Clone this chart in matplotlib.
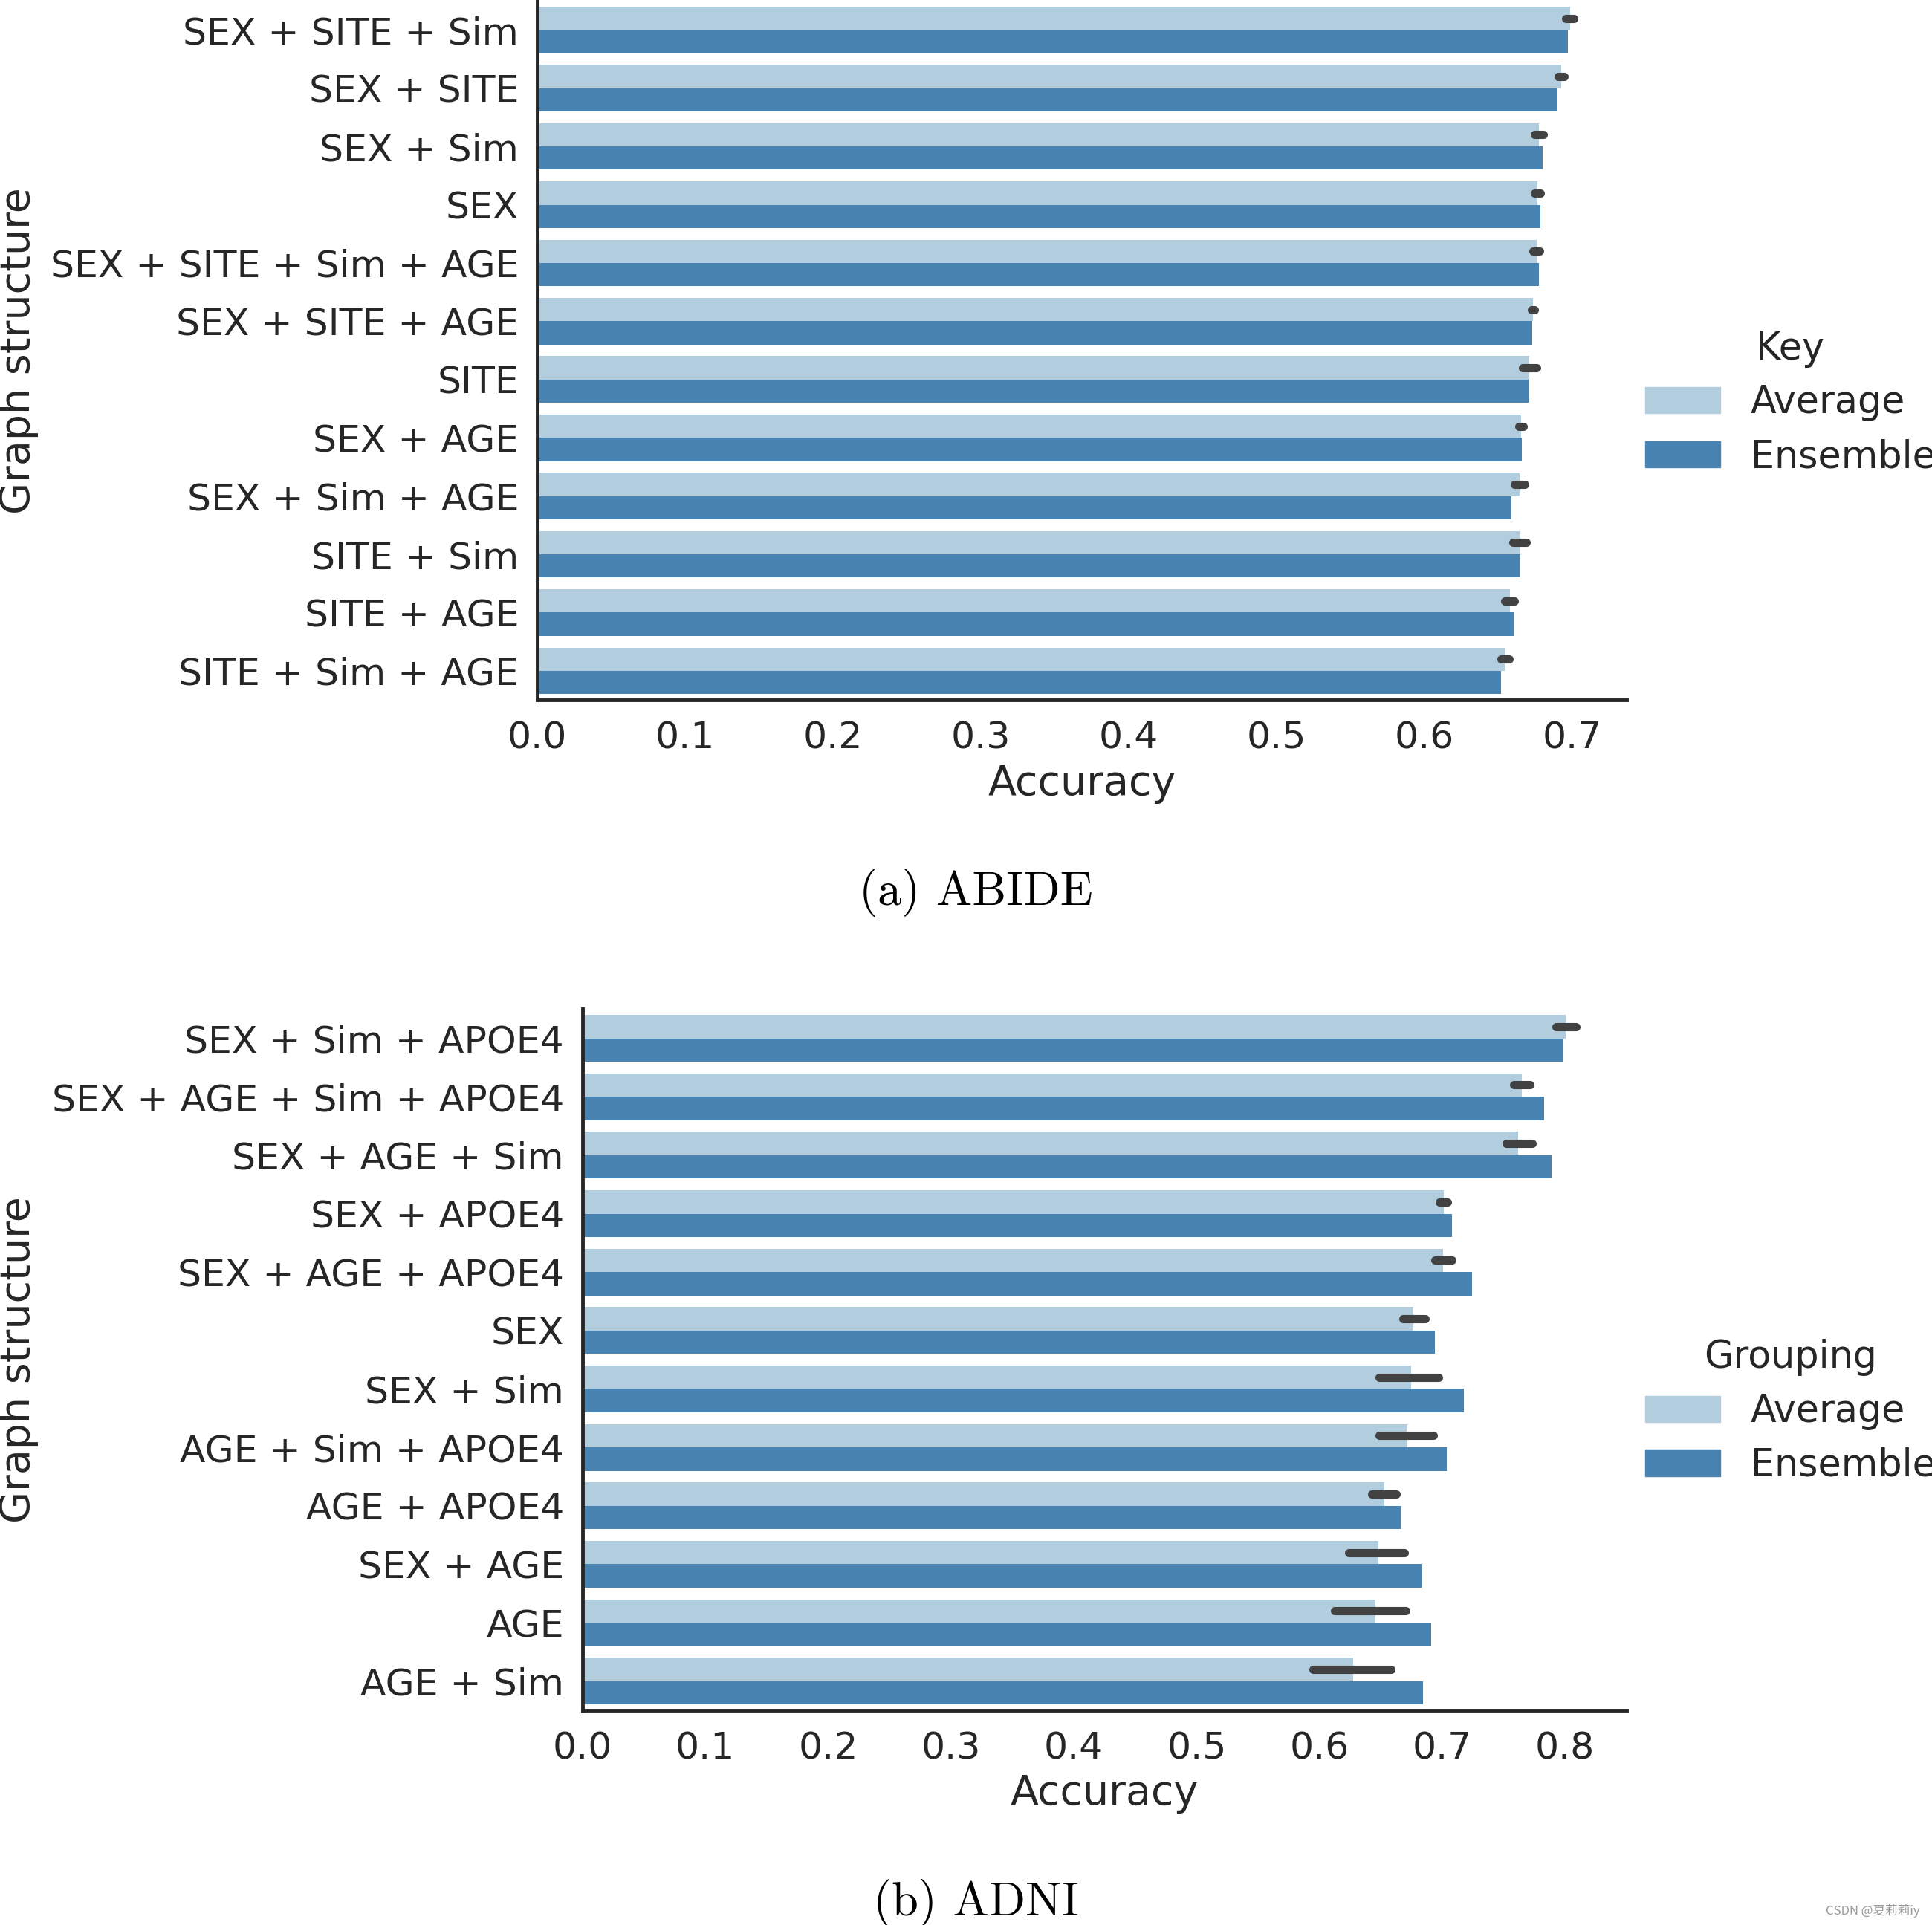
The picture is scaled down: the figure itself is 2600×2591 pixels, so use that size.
import numpy as np
import matplotlib
matplotlib.use("Agg")
import matplotlib.pyplot as plt
from matplotlib.patches import Patch

# ---- ABIDE data (top panel) ----
abide_labels = ["SEX + SITE + Sim", "SEX + SITE", "SEX + Sim", "SEX",
                "SEX + SITE + Sim + AGE", "SEX + SITE + AGE", "SITE", "SEX + AGE",
                "SEX + Sim + AGE", "SITE + Sim", "SITE + AGE", "SITE + Sim + AGE"]
abide_avg = [0.6987, 0.6926, 0.6777, 0.6767, 0.6760, 0.6739,
             0.6714, 0.6657, 0.6647, 0.6645, 0.6580, 0.6545]
abide_avg_lo = [0.6958, 0.6908, 0.6748, 0.6748, 0.6738, 0.6728,
                0.6668, 0.6643, 0.6613, 0.6603, 0.6548, 0.6523]
abide_avg_hi = [0.7012, 0.6947, 0.6807, 0.6787, 0.6782, 0.6747,
                0.6762, 0.6672, 0.6682, 0.6692, 0.6612, 0.6577]
abide_ens = [0.6973, 0.6903, 0.6800, 0.6787, 0.6777, 0.6730,
             0.6707, 0.6662, 0.6593, 0.6652, 0.6605, 0.6523]

# ---- ADNI data (bottom panel) ----
adni_labels = ["SEX + Sim + APOE4", "SEX + AGE + Sim + APOE4", "SEX + AGE + Sim",
               "SEX + APOE4", "SEX + AGE + APOE4", "SEX", "SEX + Sim",
               "AGE + Sim + APOE4", "AGE + APOE4", "SEX + AGE", "AGE", "AGE + Sim"]
adni_avg = [0.8004, 0.7647, 0.7620, 0.7010, 0.7008, 0.6766,
            0.6747, 0.6717, 0.6528, 0.6479, 0.6455, 0.6273]
adni_avg_lo = [0.7928, 0.7578, 0.7518, 0.6978, 0.6938, 0.6678,
               0.6488, 0.6488, 0.6428, 0.6238, 0.6123, 0.5948]
adni_avg_hi = [0.8092, 0.7712, 0.7732, 0.7042, 0.7077, 0.6862,
               0.6972, 0.6927, 0.6627, 0.6692, 0.6702, 0.6582]
adni_ens = [0.7984, 0.7829, 0.7889, 0.7076, 0.7242, 0.6941,
            0.7173, 0.7036, 0.6665, 0.6828, 0.6911, 0.6844]

xticks_top = [0.0, 0.1, 0.2, 0.3, 0.4, 0.5, 0.6, 0.7]
xticks_bot = [0.0, 0.1, 0.2, 0.3, 0.4, 0.5, 0.6, 0.7, 0.8]

c_avg = "#b2cdde"
c_ens = "#4883b2"
c_err = "#424242"
c_txt = "#262626"

plt.rcParams["font.family"] = "DejaVu Sans"
plt.rcParams["text.color"] = c_txt

fig = plt.figure(figsize=(26, 25.91), dpi=100)
ax1 = fig.add_axes([0.2781, 0.6364, 0.5638, 0.3632])
ax2 = fig.add_axes([0.3015, 0.1115, 0.5404, 0.3643])


def draw_panel(ax, labels, avg, lo, hi, ens, xmax, xticks):
    y = np.arange(len(labels))
    ax.barh(y - 0.2, avg, height=0.4, color=c_avg, linewidth=0)
    ax.barh(y + 0.2, ens, height=0.4, color=c_ens, linewidth=0)
    for i in range(len(labels)):
        ax.plot([lo[i], hi[i]], [y[i] - 0.2, y[i] - 0.2], color=c_err, lw=8,
                solid_capstyle="round")
    ax.set_ylim(len(labels) - 0.5, -0.5)
    ax.set_xlim(0, xmax)
    ax.set_yticks(y)
    ax.set_yticklabels(labels)
    ax.set_xticks(xticks)
    ax.set_xticklabels(["%.1f" % t for t in xticks])
    ax.tick_params(axis="both", length=0, labelsize=36.3, colors=c_txt)
    ax.tick_params(axis="x", pad=20)
    ax.tick_params(axis="y", pad=18)
    for s in ["top", "right"]:
        ax.spines[s].set_visible(False)
    for s in ["left", "bottom"]:
        ax.spines[s].set_linewidth(3.5)
        ax.spines[s].set_color(c_txt)


draw_panel(ax1, abide_labels, abide_avg, abide_avg_lo, abide_avg_hi, abide_ens,
           0.737, xticks_top)
draw_panel(ax2, adni_labels, adni_avg, adni_avg_lo, adni_avg_hi, adni_ens,
           0.85, xticks_bot)

# axis labels
for ax, yl, xl in [(ax1, 1 - 472 / 2591, 1 - 1055 / 2591),
                   (ax2, 1 - 1830 / 2591, 1 - 2414 / 2591)]:
    ax.set_ylabel("Graph structure", fontsize=40, color=c_txt)
    ax.yaxis.set_label_coords(25 / 2600, yl, transform=fig.transFigure)
    ax.yaxis.label.set_va("center")
    ax.set_xlabel("Accuracy", fontsize=40, color=c_txt)
    bb = ax.get_position()
    ax.xaxis.set_label_coords(bb.x0 + bb.width / 2, xl, transform=fig.transFigure)
    ax.xaxis.label.set_va("center")

# legends
handles = [Patch(color=c_avg, label="Average"), Patch(color=c_ens, label="Ensemble")]
fig.legend(handles=handles, title="Key", loc="upper left",
           bbox_to_anchor=(0.834, 0.846), frameon=False, fontsize=36.5,
           title_fontsize=36.5, handlelength=2.0, handleheight=0.7,
           handletextpad=0.8, labelspacing=0.45)
fig.legend(handles=handles, title="Grouping", loc="upper left",
           bbox_to_anchor=(0.834, 0.322), frameon=False, fontsize=36.5,
           title_fontsize=36.5, handlelength=2.0, handleheight=0.7,
           handletextpad=0.8, labelspacing=0.45)

# sub-captions
fig.text(0.505, 1 - 1201 / 2591, "(a) ABIDE", family="cmr10", fontsize=46.5,
         ha="center", va="center", color="black")
fig.text(0.505, 1 - 2561 / 2591, "(b) ADNI", family="cmr10", fontsize=46.5,
         ha="center", va="center", color="black")

# watermark
fig.text(0.9935, 1 - 2572 / 2591, "CSDN @夏莉莉iy", fontsize=12, color="#9a9a9a",
         family=["Noto Sans CJK SC", "DejaVu Sans"], ha="right", va="center")

fig.savefig("out.png", dpi=100, facecolor="white")
